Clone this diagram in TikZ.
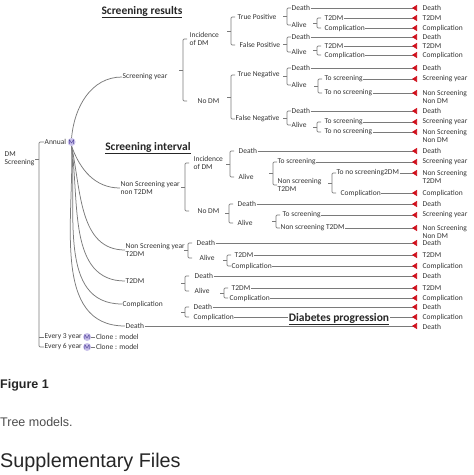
\documentclass[tikz,border=0pt]{standalone}
\usepackage{fontspec}
\setmainfont{Carlito}
\newfontfamily\capfont{Liberation Sans}
\usetikzlibrary{calc,positioning,arrows.meta}

\definecolor{linegray}{HTML}{7A7A7A}
\definecolor{termred}{HTML}{D0101C}
\definecolor{mfill}{HTML}{C9C1EA}
\definecolor{mtext}{HTML}{3F2F8F}
\definecolor{txt}{HTML}{333333}

\tikzset{
  lbl/.style={anchor=west,inner sep=0.5pt,font=\fontsize{7.5}{8.2}\selectfont,text=txt,align=left},
  term/.style={lbl},
  term2/.style={lbl,anchor=north west},
  brace/.style={draw=linegray,line width=0.75pt,rounded corners=1.2pt},
  leafline/.style={draw=linegray,line width=0.75pt,shorten >=5pt,
    -{Triangle[reversed,length=5pt,width=6pt,color=termred]}},
  curve/.style={draw=linegray,line width=0.75pt},
  mnode/.style={circle,fill=mfill,text=mtext,inner sep=0pt,minimum size=8pt,
    font=\fontsize{7}{7}\selectfont},
  title/.style={font=\fontsize{11.5}{12}\selectfont\bfseries,text=black!85,inner sep=0.5pt},
}

% bracket at x=#1 joining node #2 (top) and node #3 (bottom)
\newcommand{\fork}[3]{%
  \draw[brace] ($(#2.west -| #1,0)+(4,0)$) -- (#2.west -| #1,0) -- (#3.west -| #1,0) -- ++(4,0);
  \draw[brace] ($(#2.west -| #1,0)!0.5!(#3.west -| #1,0)$) -- ++(-4,0);
}
% branch end to terminal
\newcommand{\leaf}[2]{\draw[leafline] (#1.east) -- (#1.east -| #2.west);}

\begin{document}
\begin{tikzpicture}[x=1pt,y=1pt]
\useasboundingbox (0,0) rectangle (474,-475);

\node[title] (ttlres) at (142,-12) {\underline{Screening results}};
\node[title] (ttlint) at (148,-148) {\underline{Screening interval}};

% root
\node[lbl] (dm) at (4,-159) {DM\\Screening};
\node[lbl] (annual) at (44,-142) {Annual};
\node[mnode,right=0.5pt of annual] (mA) {M};
\node[lbl] (e3) at (44,-337) {Every 3 year};
\node[mnode,right=0.5pt of e3] (m3) {M};
\node[lbl,right=4pt of m3] (c3) {Clone : model};
\node[lbl] (e6) at (44,-347) {Every 6 year};
\node[mnode,right=0.5pt of e6] (m6) {M};
\node[lbl,right=4pt of m6] (c6) {Clone : model};

\draw[brace] (annual.west) -- (annual.west -| 39,0) -- (e6.west -| 39,0) -- (e6.west);
\draw[brace] (e3.west -| 39,0) -- (e3.west);
\draw[brace] (dm.east) -- (dm.east -| 39,0);
\draw[brace] (m3) -- (c3);
\draw[brace] (m6) -- (c6);

% level 1
\node[lbl] (sy) at (122,-77) {Screening year};
\node[lbl] (nsn) at (120,-188) {Non Screening year\\non T2DM};
\node[lbl] (nst) at (125,-250) {Non Screening year\\T2DM};
\node[lbl] (t2dm) at (125,-281) {T2DM};
\node[lbl] (comp) at (122,-304) {Complication};
\node[lbl] (dth) at (125,-326) {Death};

\draw[curve] (mA.north) to[out=85,in=180] (sy.west);
\draw[curve] (mA.south) to[out=-70,in=180] (nsn.west);
\draw[curve] (mA.south) to[out=-78,in=180] (nst.west);
\draw[curve] (mA.south) to[out=-82,in=180] (t2dm.west);
\draw[curve] (mA.south) to[out=-85,in=180] (comp.west);
\draw[curve] (mA.south) to[out=-88,in=180] (dth.west);

% screening year
\node[lbl] (inc1) at (189,-39) {Incidence\\of DM};
\node[lbl] (nodm1) at (197,-101) {No DM};
\node[lbl] (tpos) at (237,-17) {True Positive};
\node[lbl] (fpos) at (239,-45) {False Positive};
\node[lbl] (tneg) at (237,-75) {True Negative};
\node[lbl] (fneg) at (235,-119) {False Negative};
\node[lbl] (tpD) at (291,-8) {Death};
\node[lbl] (tpA) at (291,-25) {Alive};
\node[lbl] (tpT) at (324,-18) {T2DM};
\node[lbl] (tpC) at (324,-28) {Complication};
\node[lbl] (fpD) at (291,-37) {Death};
\node[lbl] (fpA) at (291,-52) {Alive};
\node[lbl] (fpT) at (324,-46) {T2DM};
\node[lbl] (fpC) at (324,-55) {Complication};
\node[lbl] (tnD) at (291,-68) {Death};
\node[lbl] (tnA) at (291,-85) {Alive};
\node[lbl] (tnS) at (324,-79) {To screening};
\node[lbl] (tnN) at (324,-93) {To no screening};
\node[lbl] (fnD) at (291,-111) {Death};
\node[lbl] (fnA) at (291,-125) {Alive};
\node[lbl] (fnS) at (324,-122) {To screening};
\node[lbl] (fnN) at (324,-132) {To no screening};

\fork{183}{inc1}{nodm1}
\fork{231}{tpos}{fpos}
\fork{287}{tpD}{tpA}
\fork{317}{tpT}{tpC}
\fork{287}{fpD}{fpA}
\fork{317}{fpT}{fpC}
\fork{231}{tneg}{fneg}
\fork{287}{tnD}{tnA}
\fork{318}{tnS}{tnN}
\fork{287}{fnD}{fnA}
\fork{317}{fnS}{fnN}

% screening interval
\node[lbl] (inc2) at (193,-163) {Incidence\\of DM};
\node[lbl] (nodm2) at (197,-211) {No DM};
\node[lbl] (iD) at (238,-151) {Death};
\node[lbl] (iA) at (238,-177) {Alive};
\node[lbl] (iS) at (277,-162) {To screening};
\node[lbl] (iN) at (277,-185) {Non screening\\T2DM};
\node[lbl] (iNS) at (336,-173) {To no screening2DM};
\node[lbl] (iNC) at (340,-193) {Complication};
\node[lbl] (nD) at (237,-204) {Death};
\node[lbl] (nA) at (237,-223) {Alive};
\node[lbl] (nS) at (282,-215) {To screening};
\node[lbl] (nN) at (280,-228) {Non screening T2DM};

\fork{185}{inc2}{nodm2}
\fork{230}{iD}{iA}
\fork{273}{iS}{iN}
\fork{332}{iNS}{iNC}
\fork{229}{nD}{nA}
\fork{276}{nS}{nN}

% diabetes progression
\node[lbl] (sD) at (196,-243) {Death};
\node[lbl] (sA) at (199,-258) {Alive};
\node[lbl] (sT) at (234,-255) {T2DM};
\node[lbl] (sC) at (231,-266) {Complication};
\node[lbl] (uD) at (194,-276) {Death};
\node[lbl] (uA) at (194,-291) {Alive};
\node[lbl] (uT) at (231,-288) {T2DM};
\node[lbl] (uC) at (229,-298) {Complication};
\node[lbl] (vD) at (193,-307) {Death};
\node[lbl] (vC) at (193,-317) {Complication};

\fork{188}{sD}{sA}
\fork{227}{sT}{sC}
\fork{185}{uD}{uA}
\fork{224}{uT}{uC}
\fork{185}{vD}{vC}

% terminals
\node[term] (r1) at (422,-8) {Death};
\node[term] (r2) at (422,-18) {T2DM};
\node[term] (r3) at (422,-28) {Complication};
\node[term] (r4) at (422,-37) {Death};
\node[term] (r5) at (422,-46) {T2DM};
\node[term] (r6) at (422,-55) {Complication};
\node[term] (r7) at (422,-68) {Death};
\node[term] (r8) at (422,-79) {Screening year};
\node[term2] (r9) at (422,-89.5) {Non Screening\\Non DM};
\node[term] (r10) at (422,-111) {Death};
\node[term] (r11) at (422,-122) {Screening year};
\node[term2] (r12) at (422,-128.5) {Non Screening\\Non DM};
\node[term] (r13) at (422,-151) {Death};
\node[term] (r14) at (422,-162) {Screening year};
\node[term2] (r15) at (422,-169.5) {Non Screening\\T2DM};
\node[term] (r16) at (422,-193) {Complication};
\node[term] (r17) at (422,-204) {Death};
\node[term] (r18) at (422,-215) {Screening year};
\node[term2] (r19) at (422,-224.5) {Non Screening\\Non DM};
\node[term] (r20) at (422,-243) {Death};
\node[term] (r21) at (422,-255) {T2DM};
\node[term] (r22) at (422,-266) {Complication};
\node[term] (r23) at (422,-276) {Death};
\node[term] (r24) at (422,-288) {T2DM};
\node[term] (r25) at (422,-298) {Complication};
\node[term] (r26) at (422,-307) {Death};
\node[term] (r27) at (422,-317) {Complication};
\node[term] (r28) at (422,-327) {Death};

\leaf{tpD}{r1}
\leaf{tpT}{r2}
\leaf{tpC}{r3}
\leaf{fpD}{r4}
\leaf{fpT}{r5}
\leaf{fpC}{r6}
\leaf{tnD}{r7}
\leaf{tnS}{r8}
\leaf{tnN}{r9}
\leaf{fnD}{r10}
\leaf{fnS}{r11}
\leaf{fnN}{r12}
\leaf{iD}{r13}
\leaf{iS}{r14}
\leaf{iNS}{r15}
\leaf{iNC}{r16}
\leaf{nD}{r17}
\leaf{nS}{r18}
\leaf{nN}{r19}
\leaf{sD}{r20}
\leaf{sT}{r21}
\leaf{sC}{r22}
\leaf{uD}{r23}
\leaf{uT}{r24}
\leaf{uC}{r25}
\leaf{vD}{r26}
\leaf{vC}{r27}
\leaf{dth}{r28}

\node[title,fill=white] (ttlprog) at (339,-319) {\underline{Diabetes progression}};

% caption
\node[anchor=west,inner sep=0pt,font=\capfont\fontsize{12.5}{14}\selectfont\bfseries,text=black!85] (fig) at (0,-385) {Figure 1};
\node[anchor=west,inner sep=0pt,font=\capfont\fontsize{12.5}{14}\selectfont,text=black!70] (cap) at (0,-422) {Tree models.};
\node[anchor=west,inner sep=0pt,font=\capfont\fontsize{19.8}{21}\selectfont,text=black!85] (supp) at (0,-462) {Supplementary Files};
\end{tikzpicture}
\end{document}
